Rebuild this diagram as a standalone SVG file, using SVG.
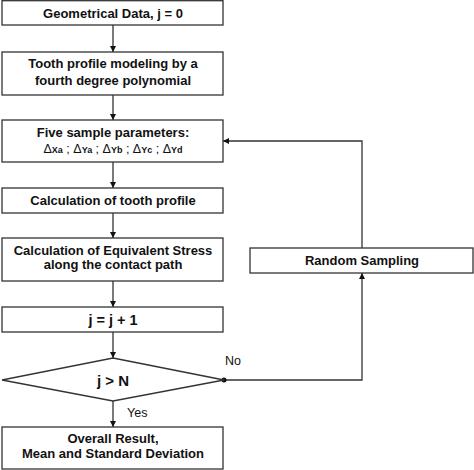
<svg xmlns="http://www.w3.org/2000/svg" width="474" height="470" viewBox="0 0 474 470">
<style>
.box{fill:#fff;stroke:#333;stroke-width:1.3}
.t{font-family:"Liberation Sans",Arial,sans-serif;font-weight:bold;font-size:13px;fill:#111;text-anchor:middle}
.r{font-family:"Liberation Sans",Arial,sans-serif;font-size:12.5px;fill:#111}
.c{fill:none;stroke:#333;stroke-width:1.3}
.sub{font-size:9px;font-weight:bold}
</style>
<defs>
<marker id="ah" markerWidth="8" markerHeight="8" refX="6" refY="3" orient="auto" markerUnits="userSpaceOnUse">
<path d="M0,0 L6,3 L0,6 z" fill="#111"/>
</marker>
</defs>
<rect width="474" height="470" fill="#fff"/>
<g id="connectors">
<line class="c" x1="113" y1="25" x2="113" y2="52" marker-end="url(#ah)"/>
<line class="c" x1="113" y1="95" x2="113" y2="120" marker-end="url(#ah)"/>
<line class="c" x1="113" y1="162" x2="113" y2="188" marker-end="url(#ah)"/>
<line class="c" x1="113" y1="213" x2="113" y2="238" marker-end="url(#ah)"/>
<line class="c" x1="113" y1="281" x2="113" y2="307" marker-end="url(#ah)"/>
<line class="c" x1="113" y1="332" x2="113" y2="358" marker-end="url(#ah)"/>
<line class="c" x1="113" y1="401" x2="113" y2="427" marker-end="url(#ah)"/>
<polyline class="c" points="224,380 362,380 362,273" marker-end="url(#ah)"/>
<polyline class="c" points="362,248 362,141 223,141" marker-end="url(#ah)"/>
<circle cx="224" cy="380" r="2.5" fill="#111"/>
<text class="r" x="225" y="365">No</text>
<text class="r" x="127" y="417">Yes</text>
</g>
<g id="n1"><rect class="box" x="2" y="0.7" width="221" height="24.3"/><text class="t" x="113" y="17.5">Geometrical Data, j = 0</text></g>
<g id="n2"><rect class="box" x="2" y="52" width="221" height="43"/><text class="t" x="113" y="68">Tooth profile modeling by a</text><text class="t" x="113" y="84.5">fourth degree polynomial</text></g>
<g id="n3"><rect class="box" x="2" y="120" width="221" height="42"/><text class="t" x="113" y="136.5">Five sample parameters:</text>
<text x="113" y="153" font-family="Liberation Sans,Arial,sans-serif" font-size="12.5" fill="#111" text-anchor="middle">Δ<tspan class="sub">Xa</tspan> ; Δ<tspan class="sub">Ya</tspan> ; Δ<tspan class="sub">Yb</tspan> ; Δ<tspan class="sub">Yc</tspan> ; Δ<tspan class="sub">Yd</tspan></text></g>
<g id="n4"><rect class="box" x="2" y="188" width="221" height="25"/><text class="t" x="113" y="205">Calculation of tooth profile</text></g>
<g id="n5"><rect class="box" x="2" y="238" width="221" height="43"/><text class="t" x="113" y="254.5">Calculation of Equivalent Stress</text><text class="t" x="113" y="269">along the contact path</text></g>
<g id="n6"><rect class="box" x="2" y="307" width="221" height="25"/><text class="t" x="113" y="325" style="font-size:14.5px">j = j + 1</text></g>
<g id="n7"><polygon class="box" points="113,358 224,380 113,401 2,380"/><text class="t" x="113" y="385.5" style="font-size:15px">j &gt; N</text></g>
<g id="n8"><rect class="box" x="250" y="248" width="223" height="25"/><text class="t" x="362" y="265">Random Sampling</text></g>
<g id="n9"><rect class="box" x="2" y="427" width="221" height="42"/><text class="t" x="113" y="442.5">Overall Result,</text><text class="t" x="113" y="458">Mean and Standard Deviation</text></g>
</svg>
